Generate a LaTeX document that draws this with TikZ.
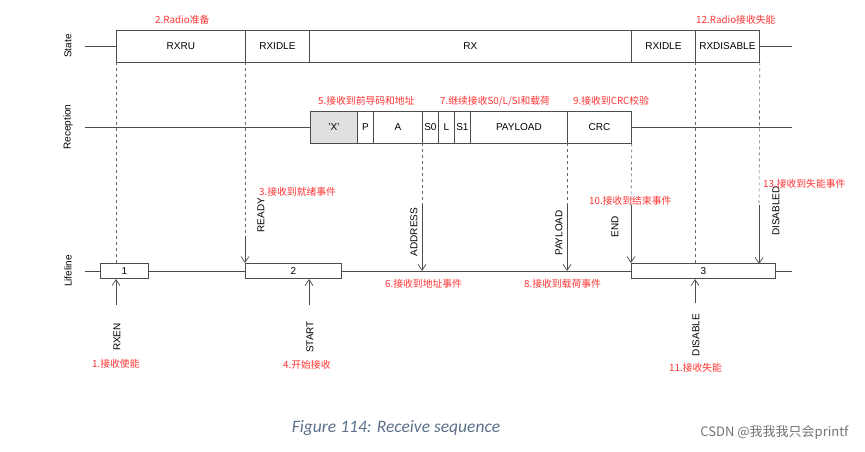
\documentclass[tikz,border=0pt]{standalone}
\usepackage{fontspec}
\setmainfont{Liberation Sans}
\newfontfamily\cjk{Noto Sans CJK SC}
\newfontfamily\capf{Carlito}
\usetikzlibrary{arrows.meta}
\definecolor{lab}{HTML}{FF3333}
\definecolor{capc}{HTML}{5B708A}
\begin{document}
\begin{tikzpicture}[x=1pt,y=-1pt,
  box/.style={draw=black!70,line width=0.8pt,font=\fontsize{10}{12}\selectfont},
  ln/.style={draw=black!70,line width=0.7pt},
  dsh/.style={draw=black!60,dashed,line width=0.6pt},
  arr/.style={draw=black!70,line width=0.7pt,-{Straight Barb[length=6pt,width=8pt]}},
  rl/.style={text=lab,font=\cjk\fontsize{9.8}{11}\selectfont,anchor=west,inner sep=0},
  ev/.style={rotate=90,font=\fontsize{10}{12}\selectfont,inner sep=0},
  side/.style={rotate=90,font=\fontsize{10}{12}\selectfont,inner sep=0}]
\useasboundingbox (0,0) rectangle (865,452);
% side labels
\node[side] (sS) at (68,46) {State};
\node[side] (sR) at (68,127) {Reception};
\node[side] (sL) at (68,271) {Lifeline};
% state row
\draw[ln] (85,46) -- (116,46);
\draw[ln] (759,46) -- (792,46);
\node[box,minimum width=129pt,minimum height=32pt,anchor=west] (rxru) at (116,46) {RXRU};
\node[box,minimum width=64pt,minimum height=32pt,anchor=west] (rxidle1) at (245,46) {RXIDLE};
\node[box,minimum width=322pt,minimum height=32pt,anchor=west] (rx) at (309,46) {RX};
\node[box,minimum width=64pt,minimum height=32pt,anchor=west] (rxidle2) at (631,46) {RXIDLE};
\node[box,minimum width=64pt,minimum height=32pt,anchor=west,inner sep=0] (rxdis) at (695,46) {RXDISABLE};
% reception row
\draw[ln] (85,127) -- (310,127);
\draw[ln] (631,127) -- (792,127);
\node[box,fill=black!12,minimum width=47pt,minimum height=32pt,anchor=west] (bx) at (310,127) {'X'};
\node[box,minimum width=16pt,minimum height=32pt,anchor=west,inner sep=0] (bp) at (357,127) {P};
\node[box,minimum width=49pt,minimum height=32pt,anchor=west] (ba) at (373,127) {A};
\node[box,minimum width=16pt,minimum height=32pt,anchor=west,inner sep=0] (bs0) at (422,127) {S0};
\node[box,minimum width=16pt,minimum height=32pt,anchor=west,inner sep=0] (bl) at (438,127) {L};
\node[box,minimum width=16pt,minimum height=32pt,anchor=west,inner sep=0] (bs1) at (454,127) {S1};
\node[box,minimum width=97pt,minimum height=32pt,anchor=west] (bpl) at (470,127) {PAYLOAD};
\node[box,minimum width=64pt,minimum height=32pt,anchor=west] (bcrc) at (567,127) {CRC};
% lifeline
\draw[ln] (85,271) -- (792,271);
\node[box,fill=white,minimum width=48pt,minimum height=15pt,anchor=west,inner sep=0] (l1) at (100,271) {1};
\node[box,fill=white,minimum width=96pt,minimum height=15pt,anchor=west,inner sep=0] (l2) at (245,271) {2};
\node[box,fill=white,minimum width=144pt,minimum height=15pt,anchor=west,inner sep=0] (l3) at (631,271) {3};
% coordinates
\coordinate (rdy) at (245,236);
\coordinate (adr) at (422,205);
\coordinate (pld) at (567,205);
\coordinate (endc) at (631,205);
\coordinate (dsd) at (759,205);
\coordinate (rxen) at (116,305);
\coordinate (strt) at (309,305);
\coordinate (disc) at (695,303);
% dashed
\draw[dsh] (rxru.south west) -- (l1.north west -| rxru.south west);
\draw[dsh] (rxidle1.south west) -- (rdy);
\draw[dsh] (bs0.south west) -- (adr);
\draw[dsh] (bcrc.south west) -- (pld);
\draw[dsh] (bcrc.south east) -- (endc);
\draw[dsh] (rxdis.south west) -- (l3.north west -| rxdis.south west);
\draw[dsh] (rxdis.south east) -- (dsd);
% arrows
\draw[arr] (rdy) -- (l2.north west);
\draw[arr] (adr) -- (422,271);
\draw[arr] (pld) -- (567,271);
\draw[arr] (endc) -- (l3.north west);
\draw[arr] (dsd) -- (759,264);
\draw[arr] (rxen) -- (116,279);
\draw[arr] (strt) -- (309,279);
\draw[arr] (disc) -- (695,279);
% event labels
\node[ev] (tR) at (261,215) {READY};
\node[ev] (tA) at (414,232) {ADDRESS};
\node[ev] (tP) at (559,233) {PAYLOAD};
\node[ev] (tE) at (615,227) {END};
\node[ev] (tD) at (776,211) {DISABLED};
\node[ev] (tX) at (117,337) {RXEN};
\node[ev] (tS) at (310,337) {START};
\node[ev] (tDi) at (696,335) {DISABLE};
% red labels
\node[rl] (n2) at (155,20) {2.Radio准备};
\node[rl] (n12) at (696,20) {12.Radio接收失能};
\node[rl] (n5) at (318,101) {5.接收到前导码和地址};
\node[rl] (n7) at (440,101) {7.继续接收S0/L/SI和载荷};
\node[rl] (n9) at (573,101) {9.接收到CRC校验};
\node[rl] (n3) at (259,192) {3.接收到就绪事件};
\node[rl] (n6) at (385,284) {6.接收到地址事件};
\node[rl] (n8) at (524,284) {8.接收到载荷事件};
\node[rl] (n10) at (589,201) {10.接收到结束事件};
\node[rl] (n13) at (763,184) {13.接收到失能事件};
\node[rl] (n1) at (92,364) {1.接收使能};
\node[rl] (n4) at (283,365) {4.开始接收};
\node[rl] (n11) at (669,368) {11.接收失能};
% caption
\node[text=capc,font=\capf\itshape\fontsize{17.5}{20}\selectfont] (cap) at (396,428) {Figure 114: Receive sequence};
\node[text=black!55,font=\cjk\fontsize{13}{15}\selectfont,anchor=east] (wm) at (852,433) {CSDN @我我我只会printf};
\end{tikzpicture}
\end{document}
